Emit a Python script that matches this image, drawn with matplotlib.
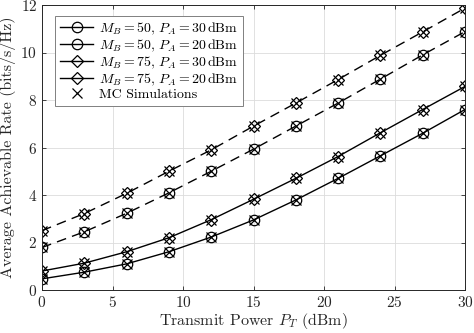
import matplotlib
matplotlib.use("Agg")
import matplotlib.pyplot as plt
from matplotlib.lines import Line2D

plt.rcParams['font.family'] = 'serif'
plt.rcParams['font.serif'] = ['cmr10', 'DejaVu Serif']
plt.rcParams['mathtext.fontset'] = 'cm'
plt.rcParams['axes.formatter.use_mathtext'] = True

x_power = [0, 3, 6, 9, 12, 15, 18, 21, 24, 27, 30]
rate_mb50_pa30 = [1.79, 2.45, 3.23, 4.09, 5.00, 5.93, 6.90, 7.87, 8.88, 9.90, 10.88]
rate_mb50_pa20 = [0.47, 0.75, 1.10, 1.61, 2.23, 2.95, 3.79, 4.70, 5.65, 6.60, 7.60]
rate_mb75_pa30 = [2.50, 3.22, 4.07, 5.00, 5.90, 6.90, 7.87, 8.86, 9.88, 10.87, 11.87]
rate_mb75_pa20 = [0.80, 1.13, 1.61, 2.20, 2.96, 3.82, 4.70, 5.62, 6.62, 7.60, 8.57]

labels = [r'$M_B = 50,\, P_A = 30\,\mathrm{dBm}$',
          r'$M_B = 50,\, P_A = 20\,\mathrm{dBm}$',
          r'$M_B = 75,\, P_A = 30\,\mathrm{dBm}$',
          r'$M_B = 75,\, P_A = 20\,\mathrm{dBm}$',
          'MC Simulations']

fig = plt.figure(figsize=(4.74, 3.33), dpi=100)
ax = fig.add_axes([42/474, 1-290/333, (465-42)/474, (290-5)/333])

dash = (7, 4.5)
series = [
    (rate_mb50_pa30, 'o', (0, dash), 7.5),
    (rate_mb50_pa20, 'o', '-', 7.5),
    (rate_mb75_pa30, 'D', (0, dash), 6.5),
    (rate_mb75_pa20, 'D', '-', 6.5),
]
handles = []
for (y, m, ls, ms), lab in zip(series, labels[:4]):
    ax.plot(x_power, y, color='black', lw=1.0, linestyle=ls, marker=m,
            ms=ms, mfc='none', mec='black', mew=0.9)
    handles.append(Line2D([], [], color='black', lw=1.0, linestyle='-',
                          marker=m, ms=ms, mfc='none', mec='black', mew=0.9))
    ax.plot(x_power, y, linestyle='none', marker='x', ms=6.5, color='black',
            mew=0.9)
handles.append(Line2D([], [], linestyle='none', marker='x', ms=6.5,
                      color='black', mew=0.9))

ax.set_xlim(0, 30)
ax.set_ylim(0, 12)
ax.set_xticks([0, 5, 10, 15, 20, 25, 30])
ax.set_yticks([0, 2, 4, 6, 8, 10, 12])
ax.grid(True, color='#dcdcdc', lw=0.6)
ax.set_axisbelow(True)
ax.tick_params(direction='in', top=True, right=True, labelsize=11,
               length=3, width=0.6, colors='#262626')
for s in ax.spines.values():
    s.set_linewidth(0.7)
    s.set_color('#262626')
ax.set_xlabel(r'Transmit Power $P_T$ (dBm)', fontsize=11.5, labelpad=1, color='#262626')
ax.set_ylabel(r'Average Achievable Rate (bits/s/Hz)', fontsize=11.5, labelpad=3, color='#262626')

leg = ax.legend(handles, labels, loc='upper left', fontsize=10,
                bbox_to_anchor=(0.031, 0.962), borderaxespad=0,
                handlelength=2.4, labelspacing=0.05, borderpad=0.35,
                handletextpad=0.4, fancybox=False, framealpha=1,
                edgecolor='#808080')
leg.get_frame().set_linewidth(0.7)

fig.savefig('out.png', dpi=100)
